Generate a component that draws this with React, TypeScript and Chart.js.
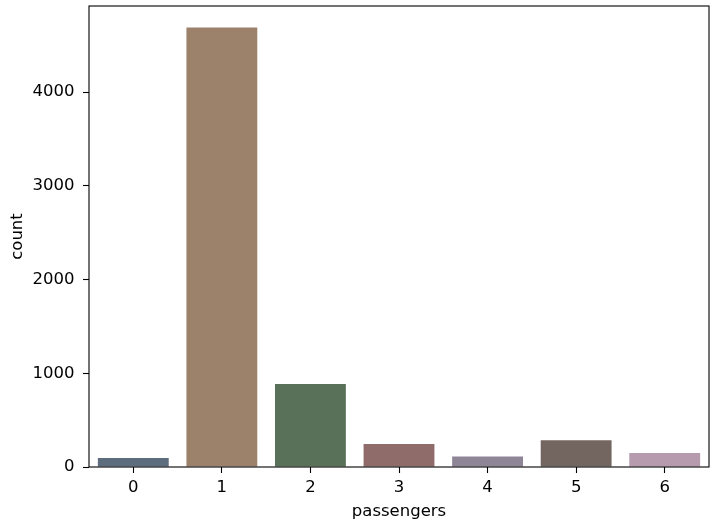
import { useEffect, useRef } from "react";
import { Chart, registerables, Plugin } from "chart.js";

Chart.register(...registerables);

const passengers = ["0", "1", "2", "3", "4", "5", "6"];
const counts = [96, 4690, 885, 245, 112, 285, 149];
const barColors = [
  "#5d6d7e",
  "#9d826b",
  "#5a7159",
  "#8f6c6a",
  "#8e8597",
  "#736560",
  "#b59bad",
];
const yTicks = [0, 1000, 2000, 3000, 4000];

const FONT = "'DejaVu Sans', sans-serif";
const SIZE = 16.5;

// full box round the plot area, like the matplotlib spines
const frame: Plugin<"bar"> = {
  id: "frame",
  afterDraw(chart) {
    const { ctx, chartArea } = chart;
    ctx.save();
    ctx.strokeStyle = "#000";
    ctx.lineWidth = 1.1;
    ctx.strokeRect(
      chartArea.left,
      chartArea.top,
      chartArea.right - chartArea.left,
      chartArea.bottom - chartArea.top
    );
    ctx.restore();
  },
};

export default function App() {
  const canvasRef = useRef<HTMLCanvasElement>(null);

  useEffect(() => {
    document.body.style.margin = "0";
    const canvas = canvasRef.current;
    if (!canvas) return;

    const chart = new Chart(canvas, {
      type: "bar",
      data: {
        labels: passengers,
        datasets: [
          {
            data: counts,
            backgroundColor: barColors,
            borderWidth: 0,
            barPercentage: 0.8,
            categoryPercentage: 1,
          },
        ],
      },
      options: {
        animation: false,
        responsive: false,
        devicePixelRatio: 1,
        layout: { padding: { top: 6, right: 10, left: 0, bottom: 0 } },
        plugins: { legend: { display: false }, tooltip: { enabled: false } },
        scales: {
          x: {
            grid: {
              offset: false,
              drawOnChartArea: false,
              drawTicks: true,
              tickLength: 6,
              color: "#000",
              tickWidth: 1.1,
            },
            border: { display: false },
            ticks: {
              color: "#000",
              padding: 5,
              font: { family: FONT, size: SIZE },
            },
            title: {
              display: true,
              text: "passengers",
              color: "#000",
              padding: { top: 0, bottom: 6 },
              font: { family: FONT, size: SIZE },
            },
            afterFit(axis) {
              axis.height = 61;
              axis.paddingLeft = 0;
              axis.paddingRight = 0;
            },
          },
          y: {
            min: 0,
            max: 4920,
            grid: {
              drawOnChartArea: false,
              drawTicks: true,
              tickLength: 6,
              color: "#000",
              tickWidth: 1.1,
            },
            border: { display: false },
            ticks: {
              color: "#000",
              padding: 8.5,
              font: { family: FONT, size: SIZE },
              callback: (v) => String(v),
            },
            afterBuildTicks(axis) {
              axis.ticks = yTicks.map((v) => ({ value: v }));
            },
            title: {
              display: true,
              text: "count",
              color: "#000",
              padding: { top: 8, bottom: 0 },
              font: { family: FONT, size: SIZE },
            },
            afterFit(axis) {
              axis.width = 89;
              axis.paddingTop = 0;
              axis.paddingBottom = 0;
            },
          },
        },
      },
      plugins: [frame],
    });

    return () => {
      chart.destroy();
    };
  }, []);

  return (
    <div style={{ width: 719, height: 528, background: "#fff" }}>
      <canvas ref={canvasRef} width={719} height={528}></canvas>
    </div>
  );
}
